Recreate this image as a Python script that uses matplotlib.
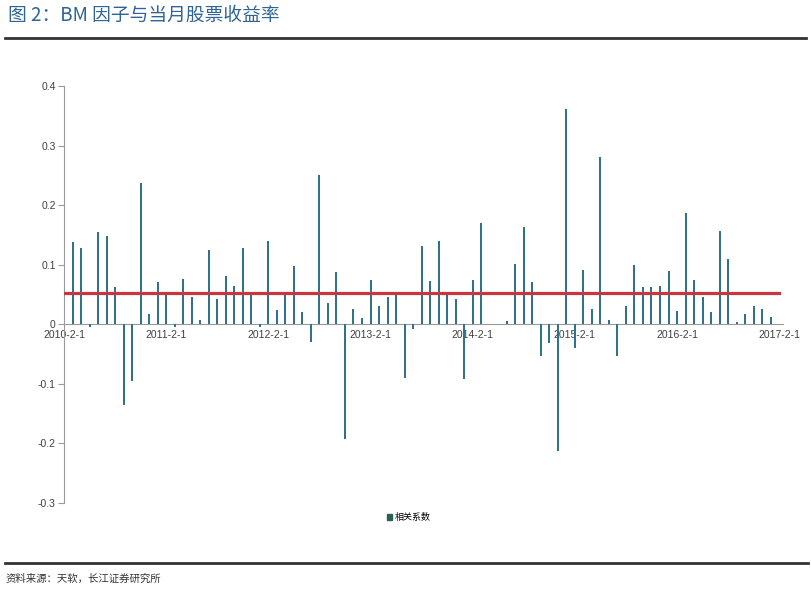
import pandas as pd
import matplotlib.pyplot as plt
from matplotlib.patches import Patch

plt.rcParams['font.family'] = ['Liberation Sans', 'Noto Sans CJK SC', 'DejaVu Sans']

# monthly correlation between BM factor and same-month stock returns
months = pd.date_range('2010-03-01', '2017-01-01', freq='MS')
corr = [0.138, 0.128, -0.005, 0.155, 0.148, 0.062, -0.135, -0.095, 0.237, 0.018,
        0.071, 0.051, -0.005, 0.076, 0.045, 0.008, 0.124, 0.043, 0.081, 0.064,
        0.128, 0.052, -0.005, 0.140, 0.024, 0.049, 0.098, 0.020, -0.030, 0.251,
        0.035, 0.088, -0.192, 0.025, 0.010, 0.074, 0.030, 0.045, 0.053, -0.091,
        -0.008, 0.132, 0.072, 0.139, 0.052, 0.042, -0.092, 0.074, 0.170, 0.0,
        0.0, 0.005, 0.101, 0.164, 0.071, -0.053, -0.031, -0.212, 0.361, -0.039,
        0.091, 0.025, 0.280, 0.008, -0.053, 0.031, 0.099, 0.062, 0.062, 0.064,
        0.089, 0.022, 0.187, 0.074, 0.045, 0.021, 0.156, 0.110, 0.004, 0.018,
        0.031, 0.026, 0.013]
avg_level = 0.053
tick_dates = pd.date_range('2010-02-01', '2017-02-01', freq='12MS')
tick_labels = [f'{d.year}-{d.month}-{d.day}' for d in tick_dates]

start = pd.Timestamp('2010-02-01')
def month_pos(d):
    return (d.year - start.year) * 12 + (d.month - start.month)

x = [month_pos(d) for d in months]
tick_pos = [month_pos(d) for d in tick_dates]

fig = plt.figure(figsize=(8.12, 5.93), dpi=100)
ax = fig.add_axes([0.0788, 0.1518, 0.885, 0.7032])

bar_color = '#2c6f88'
# thin bars drawn as lines so every one gets the same pixel width
ax.vlines(x, 0, corr, color=bar_color, lw=1.4, zorder=2)
ax.plot([0, tick_pos[-1]], [avg_level, avg_level], color='#c8373f', lw=2.3, zorder=3)

ax.set_xlim(0, 84.4)
ax.set_ylim(-0.3, 0.4)
ax.set_yticks([-0.3, -0.2, -0.1, 0, 0.1, 0.2, 0.3, 0.4])
ax.set_yticklabels(['-0.3', '-0.2', '-0.1', '0', '0.1', '0.2', '0.3', '0.4'])
ax.set_xticks(tick_pos)
ax.set_xticklabels(tick_labels)

ax.spines['top'].set_visible(False)
ax.spines['right'].set_visible(False)
ax.spines['bottom'].set_position(('data', 0))
ax.spines['bottom'].set_color('#9a9a9a')
ax.spines['left'].set_color('#9a9a9a')
ax.spines['bottom'].set_zorder(1)
ax.tick_params(axis='y', labelsize=7.5, colors='#404040', length=4, color='#9a9a9a', pad=2)
ax.tick_params(axis='x', labelsize=7.5, colors='#404040', length=0, pad=4)

ax.legend(handles=[Patch(color='#2a5f55', label='相关系数')],
          loc='upper center', bbox_to_anchor=(0.48, -0.005), frameon=False,
          handlelength=0.6, handleheight=0.6, handletextpad=0.3,
          prop={'family': ['Noto Sans CJK SC'], 'size': 6.5})

# title, rules and source note
fig.text(0.01, 0.975, '图 2：BM 因子与当月股票收益率', ha='left', va='center',
         fontsize=13.5, color='#2e6496', family=['Noto Sans CJK SC'])
fig.add_artist(plt.Line2D([0.006, 0.992], [0.936, 0.936], color='#333333', lw=2))
fig.add_artist(plt.Line2D([0.006, 0.995], [0.051, 0.051], color='#333333', lw=2))
fig.text(0.007, 0.024, '资料来源：天软，长江证券研究所', ha='left', va='center',
         fontsize=7.5, color='#333333', family=['Noto Sans CJK SC'])

fig.savefig('out.png', dpi=100)
